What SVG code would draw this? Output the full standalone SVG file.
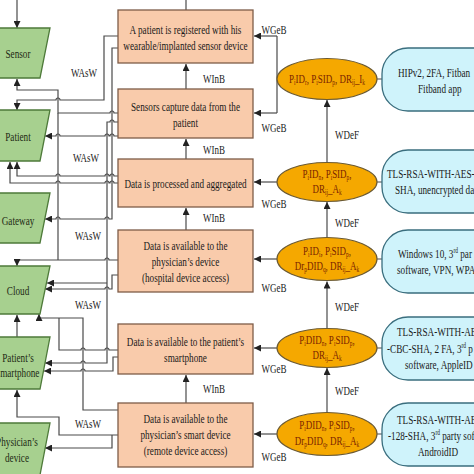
<svg xmlns="http://www.w3.org/2000/svg" width="474" height="474" viewBox="0 0 474 474">
<defs>
<marker id="ah" markerUnits="userSpaceOnUse" markerWidth="8" markerHeight="7" refX="7" refY="3.5" orient="auto"><path d="M0,0 L7,3.5 L0,7 z" fill="#222"/></marker>
<style>
.grn{fill:#A7D08F;stroke:#4E7A3A;stroke-width:1.3}
.org{fill:#F9CBAB;stroke:#7E5C48;stroke-width:1.3}
.ell{fill:#F5A800;stroke:#6B5A33;stroke-width:1.2}
.cyn{fill:#CFF3FB;stroke:#3A6E7E;stroke-width:1.3}
.ln{fill:none;stroke:#4a4a4a;stroke-width:1.2}
.ar{fill:none;stroke:#4a4a4a;stroke-width:1.2;marker-end:url(#ah)}
text{font-family:"Liberation Serif","Times New Roman",serif}
.t{font-size:13.5px;fill:#1a1a1a;text-anchor:middle}
.ts{font-size:13.5px;fill:#1a1a1a;text-anchor:start}
.g{font-size:13.5px;fill:#1e2a14;text-anchor:middle}
.e{font-size:12.5px;fill:#7A1F00;text-anchor:middle}
.s{font-size:7.5px}
.l{font-size:12.5px;fill:#1a1a1a;text-anchor:middle}
</style>
</defs>
<rect width="474" height="474" fill="#fff"/>

<g id="connectors">
<path class="ar" d="M17,0 V28"/>
<path class="ln" d="M186,0 V10"/>
<path class="ar" d="M118,36 H104 V100 H60 A2 2 0 0 0 56,100 H17 V110"/>
<path class="ar" d="M118,48 H112 V219 H109 A2 2 0 0 0 105,219 H60 A2 2 0 0 0 56,219 H45"/>
<path class="ar" d="M118,113 H114 A2 2 0 0 0 110,113 H58 V90 H17 V79"/>
<path class="ln" d="M58,113 V260"/>
<path class="ar" d="M118,122 H114 A2 2 0 0 0 110,122 H107 V363 H85 A2 2 0 0 0 81,363 H45"/>
<path class="ar" d="M107,283 H47"/>
<path class="ar" d="M118,136 H114 A2 2 0 0 0 110,136 H109 A2 2 0 0 0 105,136 H60 A2 2 0 0 0 56,136 H45"/>
<path class="ar" d="M118,176 H114 A2 2 0 0 0 110,176 H109 A2 2 0 0 0 105,176 H60 A2 2 0 0 0 56,176 H17 V162"/>
<path class="ar" d="M118,183 H114 A2 2 0 0 0 110,183 H109 A2 2 0 0 0 105,183 H60 A2 2 0 0 0 56,183 H10 V162"/>
<path class="ar" d="M118,260 H109 A2 2 0 0 0 105,260 H17 V266"/>
<path class="ar" d="M118,275 H112 V289 H109 A2 2 0 0 0 105,289 H45"/>
<path class="ar" d="M118,410 H83 V318 H39 V314"/>
<path class="ln" d="M118,350 H109 A2 2 0 0 0 105,350 H85 A2 2 0 0 0 81,350 H59 V318"/>
<path class="ar" d="M118,357 H113 V371 H85 A2 2 0 0 0 81,371 H44"/>
<path class="ar" d="M17,337 V315"/>
<path class="ar" d="M118,435 H59 V417 H17 V390"/>
<path class="ar" d="M112,435 V448 H45"/>
<path class="ar" d="M186,89 V64"/>
<path class="ar" d="M186,159 V139"/>
<path class="ar" d="M186,230 V208"/>
<path class="ar" d="M186,403 V375"/>
<path class="ln" d="M277,36 V113"/>
<path class="ar" d="M277,36 H254"/>
<path class="ar" d="M277,113 H254"/>
<path class="ar" d="M277,182 H254"/>
<path class="ar" d="M277,259 H254"/>
<path class="ar" d="M277,348 H254"/>
<path class="ar" d="M277,434 H254"/>
<path class="ar" d="M327,163 V100"/>
<path class="ar" d="M327,237.5 V202"/>
<path class="ar" d="M327,329 V281.5"/>
<path class="ar" d="M327,412.5 V368"/>
<path class="ln" d="M377,79 H382 M377,182 H382 M377,259 H382 M377,348 H382 M377,434 H382"/>
</g>

<g id="labels">
<text class="l" transform="matrix(.72 0 0 1 84 77)">WAsW</text>
<text class="l" transform="matrix(.72 0 0 1 86 162)">WAsW</text>
<text class="l" transform="matrix(.72 0 0 1 88 240)">WAsW</text>
<text class="l" transform="matrix(.72 0 0 1 88 309)">WAsW</text>
<text class="l" transform="matrix(.72 0 0 1 88 428)">WAsW</text>
<text class="l" transform="matrix(.72 0 0 1 214 83)">WInB</text>
<text class="l" transform="matrix(.72 0 0 1 214 154)">WInB</text>
<text class="l" transform="matrix(.72 0 0 1 214 222)">WInB</text>
<text class="l" transform="matrix(.72 0 0 1 214 393)">WInB</text>
<text class="l" transform="matrix(.72 0 0 1 274 34)">WGeB</text>
<text class="l" transform="matrix(.72 0 0 1 274 132)">WGeB</text>
<text class="l" transform="matrix(.72 0 0 1 274 208)">WGeB</text>
<text class="l" transform="matrix(.72 0 0 1 274 292)">WGeB</text>
<text class="l" transform="matrix(.72 0 0 1 274 373)">WGeB</text>
<text class="l" transform="matrix(.72 0 0 1 274 461)">WGeB</text>
<text class="l" transform="matrix(.72 0 0 1 347 139)">WDeF</text>
<text class="l" transform="matrix(.72 0 0 1 347 227)">WDeF</text>
<text class="l" transform="matrix(.72 0 0 1 347 311)">WDeF</text>
<text class="l" transform="matrix(.72 0 0 1 347 395)">WDeF</text>
</g>

<g id="sensor"><polygon class="grn" points="-14,28 50,28 40,78 -4,78"/><text class="g" transform="matrix(.68 0 0 1 18 58)">Sensor</text></g>
<g id="patient"><polygon class="grn" points="-14,110 50,110 40,161 -4,161"/><text class="g" transform="matrix(.68 0 0 1 18 141)">Patient</text></g>
<g id="gateway"><polygon class="grn" points="-14,193 50,193 40,243 -4,243"/><text class="g" transform="matrix(.68 0 0 1 18 225)">Gateway</text></g>
<g id="cloud"><polygon class="grn" points="-14,266 50,266 40,314 -4,314"/><text class="g" transform="matrix(.68 0 0 1 18 295)">Cloud</text></g>
<g id="patient-smartphone"><polygon class="grn" points="-14,337 50,337 40,389 -4,389"/><text class="g" transform="matrix(.68 0 0 1 18 362)">Patient’s</text><text class="g" transform="matrix(.68 0 0 1 18 377)">smartphone</text></g>
<g id="physician-device"><polygon class="grn" points="-14,423 50,423 40,475 -4,475"/><text class="g" transform="matrix(.68 0 0 1 17 446)">Physician’s</text><text class="g" transform="matrix(.68 0 0 1 17 462)">device</text></g>

<g id="box1"><rect class="org" x="118" y="10" width="135" height="53"/><text class="t" transform="matrix(.68 0 0 1 185.5 33.5)">A patient is registered with his</text><text class="t" transform="matrix(.68 0 0 1 185.5 49.5)">wearable/implanted sensor device</text></g>
<g id="box2"><rect class="org" x="118" y="89" width="135" height="49"/><text class="t" transform="matrix(.68 0 0 1 185.5 111)">Sensors capture data from the</text><text class="t" transform="matrix(.68 0 0 1 185.5 127)">patient</text></g>
<g id="box3"><rect class="org" x="118" y="159" width="135" height="48"/><text class="t" transform="matrix(.68 0 0 1 185.5 187.5)">Data is processed and aggregated</text></g>
<g id="box4"><rect class="org" x="118" y="230" width="135" height="62"/><text class="t" transform="matrix(.68 0 0 1 185.5 250)">Data is available to the</text><text class="t" transform="matrix(.68 0 0 1 185.5 266)">physician’s device</text><text class="t" transform="matrix(.68 0 0 1 185.5 282)">(hospital device access)</text></g>
<g id="box5"><rect class="org" x="118" y="324" width="135" height="50"/><text class="t" transform="matrix(.68 0 0 1 185.5 346)">Data is available to the patient’s</text><text class="t" transform="matrix(.68 0 0 1 185.5 362)">smartphone</text></g>
<g id="box6"><rect class="org" x="118" y="403" width="135" height="64"/><text class="t" transform="matrix(.68 0 0 1 185.5 423)">Data is available to the</text><text class="t" transform="matrix(.68 0 0 1 185.5 439)">physician’s smart device</text><text class="t" transform="matrix(.68 0 0 1 185.5 455)">(remote device access)</text></g>

<g id="ell1"><ellipse class="ell" cx="327" cy="79" rx="50" ry="20.5"/><text class="e" transform="matrix(.72 0 0 1 327 83)">P<tspan class="s" dy="2">i</tspan><tspan dy="-2">ID</tspan><tspan class="s" dy="2">r</tspan><tspan dy="-2">, P</tspan><tspan class="s" dy="2">i</tspan><tspan dy="-2">SID</tspan><tspan class="s" dy="2">p</tspan><tspan dy="-2">, DR</tspan><tspan class="s" dy="2">ij</tspan><tspan dy="-2">_I</tspan><tspan class="s" dy="2">k</tspan></text></g>
<g id="ell2"><ellipse class="ell" cx="327" cy="182" rx="50" ry="19.5"/><text class="e" transform="matrix(.72 0 0 1 327 177.5)">P<tspan class="s" dy="2">i</tspan><tspan dy="-2">ID</tspan><tspan class="s" dy="2">n</tspan><tspan dy="-2">, P</tspan><tspan class="s" dy="2">i</tspan><tspan dy="-2">SID</tspan><tspan class="s" dy="2">p</tspan><tspan dy="-2">,</tspan></text><text class="e" transform="matrix(.72 0 0 1 327 192.5)">DR<tspan class="s" dy="2">ij</tspan><tspan dy="-2">_A</tspan><tspan class="s" dy="2">k</tspan></text></g>
<g id="ell3"><ellipse class="ell" cx="327" cy="259" rx="50" ry="21.5"/><text class="e" transform="matrix(.72 0 0 1 327 254.5)">P<tspan class="s" dy="2">i</tspan><tspan dy="-2">ID</tspan><tspan class="s" dy="2">i</tspan><tspan dy="-2">, P</tspan><tspan class="s" dy="2">i</tspan><tspan dy="-2">SID</tspan><tspan class="s" dy="2">p</tspan><tspan dy="-2">,</tspan></text><text class="e" transform="matrix(.72 0 0 1 327 270)">Dr<tspan class="s" dy="2">p</tspan><tspan dy="-2">DID</tspan><tspan class="s" dy="2">q</tspan><tspan dy="-2">, DR</tspan><tspan class="s" dy="2">ij</tspan><tspan dy="-2">_A</tspan><tspan class="s" dy="2">k</tspan></text></g>
<g id="ell4"><ellipse class="ell" cx="327" cy="348" rx="50" ry="19.5"/><text class="e" transform="matrix(.72 0 0 1 327 343.5)">P<tspan class="s" dy="2">i</tspan><tspan dy="-2">DID</tspan><tspan class="s" dy="2">n</tspan><tspan dy="-2">, P</tspan><tspan class="s" dy="2">i</tspan><tspan dy="-2">SID</tspan><tspan class="s" dy="2">p</tspan><tspan dy="-2">,</tspan></text><text class="e" transform="matrix(.72 0 0 1 327 358.5)">DR<tspan class="s" dy="2">ij</tspan><tspan dy="-2">_A</tspan><tspan class="s" dy="2">k</tspan></text></g>
<g id="ell5"><ellipse class="ell" cx="327" cy="434" rx="50" ry="21.5"/><text class="e" transform="matrix(.72 0 0 1 327 428.5)">P<tspan class="s" dy="2">i</tspan><tspan dy="-2">DID</tspan><tspan class="s" dy="2">n</tspan><tspan dy="-2">, P</tspan><tspan class="s" dy="2">i</tspan><tspan dy="-2">SID</tspan><tspan class="s" dy="2">p</tspan><tspan dy="-2">,</tspan></text><text class="e" transform="matrix(.72 0 0 1 327 444.5)">Dr<tspan class="s" dy="2">p</tspan><tspan dy="-2">DID</tspan><tspan class="s" dy="2">q</tspan><tspan dy="-2">, DR</tspan><tspan class="s" dy="2">ij</tspan><tspan dy="-2">_A</tspan><tspan class="s" dy="2">k</tspan></text></g>

<g id="sec1"><rect class="cyn" x="382" y="48" width="118" height="63" rx="26" ry="26"/><text class="ts" transform="matrix(.68 0 0 1 398 76.5)">HIPv2, 2FA, Fitban</text><text class="ts" transform="matrix(.68 0 0 1 418 92.5)">Fitband app</text></g>
<g id="sec2"><rect class="cyn" x="382" y="150" width="118" height="63" rx="26" ry="26"/><text class="ts" transform="matrix(.68 0 0 1 387 178)">TLS-RSA-WITH-AES-</text><text class="ts" transform="matrix(.68 0 0 1 395 194)">SHA, unencrypted da</text></g>
<g id="sec3"><rect class="cyn" x="382" y="230" width="118" height="63" rx="26" ry="26"/><text class="ts" transform="matrix(.68 0 0 1 398 258)">Windows 10, 3<tspan font-size="8" dy="-5">rd</tspan><tspan dy="5"> par</tspan></text><text class="ts" transform="matrix(.68 0 0 1 397 274)">software, VPN, WPA</text></g>
<g id="sec4"><rect class="cyn" x="382" y="317" width="118" height="63" rx="26" ry="26"/><text class="ts" transform="matrix(.68 0 0 1 397 336)">TLS-RSA-WITH-AE</text><text class="ts" transform="matrix(.68 0 0 1 387 352.5)">-CBC-SHA, 2 FA, 3<tspan font-size="8" dy="-5">rd</tspan><tspan dy="5"> p</tspan></text><text class="ts" transform="matrix(.68 0 0 1 405 369)">software, AppleID</text></g>
<g id="sec5"><rect class="cyn" x="382" y="403" width="118" height="63" rx="26" ry="26"/><text class="ts" transform="matrix(.68 0 0 1 397 424)">TLS-RSA-WITH-AE</text><text class="ts" transform="matrix(.68 0 0 1 388 440)">-128-SHA, 3<tspan font-size="8" dy="-5">rd</tspan><tspan dy="5"> party soft</tspan></text><text class="ts" transform="matrix(.68 0 0 1 418 456)">AndroidID</text></g>
</svg>
